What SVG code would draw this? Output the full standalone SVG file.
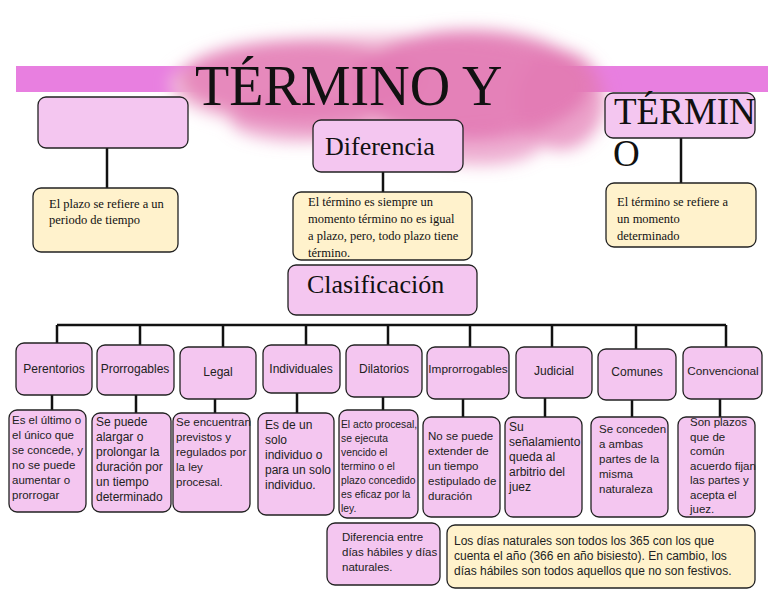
<svg xmlns="http://www.w3.org/2000/svg" width="768" height="594" viewBox="0 0 768 594">
<style>
.p{fill:#f4c6f0;stroke:#222;stroke-width:1.3}
.y{fill:#fff2cc;stroke:#222;stroke-width:1.3}
.s{font-family:"Liberation Sans",Arial,sans-serif;font-size:12px;fill:#222}
.t{font-family:"Liberation Serif","Times New Roman",serif;fill:#111}
.c{stroke:#111;stroke-width:2.5;fill:none}
</style>
<defs><filter id="b" x="-30%" y="-50%" width="160%" height="200%"><feGaussianBlur stdDeviation="8"/></filter></defs>
<rect x="16" y="66" width="752" height="26" fill="#e87fe0"/>
<g filter="url(#b)" fill="#e27ab4">
<ellipse cx="380" cy="85" rx="210" ry="50" fill="#f3c3dc"/>
<ellipse cx="300" cy="80" rx="120" ry="40" opacity="0.8"/>
<ellipse cx="470" cy="85" rx="120" ry="55" opacity="0.9"/>
<ellipse cx="560" cy="100" rx="45" ry="50" opacity="0.7"/>
<ellipse cx="300" cy="120" rx="70" ry="22" opacity="0.6"/>
<ellipse cx="480" cy="145" rx="60" ry="20" opacity="0.6"/>
</g>
<g id="title"><text class="t" x="195" y="105" font-size="56">TÉRMINO Y</text></g>
<g id="connectors" class="c">
<line x1="107" y1="148" x2="107" y2="188"/>
<line x1="383" y1="172" x2="383" y2="192"/>
<line x1="681" y1="138" x2="681" y2="183"/>
<path d="M57 325H726M57 325V343M140 325V345M223 325V347M306 325V345M388 325V345M470 325V347M552 325V347M636 325V349M726 325V347"/>
<path d="M52 395V410M136 395V413M215 399V413M297 393V413M383 397V410M463 399V417M545 398V417M632 400V417M720 399V417"/>
</g>
<g id="n-left"><rect class="p" x="38" y="97" width="150" height="51" rx="8"/></g>
<g id="n-left-d"><rect class="y" x="33" y="188" width="145" height="64" rx="8"/>
<text class="t" font-size="12.5" x="49" y="208">El plazo se refiere a un</text><text class="t" font-size="12.5" x="49" y="224">periodo de tiempo</text></g>
<g id="n-dif"><rect class="p" x="313" y="120" width="150" height="52" rx="8"/><text class="t" x="325" y="155" font-size="26">Diferencia</text></g>
<g id="n-dif-d"><rect class="y" x="293" y="192" width="179" height="68" rx="8"/>
<text class="t" font-size="12.5" x="308" y="206">El término es siempre un</text><text class="t" font-size="12.5" x="308" y="223">momento término no es igual</text><text class="t" font-size="12.5" x="308" y="240">a plazo, pero, todo plazo tiene</text><text class="t" font-size="12.5" x="308" y="257">término.</text></g>
<g id="n-term"><rect class="p" x="605" y="93" width="150" height="45" rx="8"/><text class="t" x="614" y="124" font-size="37">TÉRMIN</text><text class="t" x="613" y="166" font-size="37">O</text></g>
<g id="n-term-d"><rect class="y" x="606" y="183" width="150" height="64" rx="8"/>
<text class="t" font-size="12.5" x="617" y="206">El término se refiere a</text><text class="t" font-size="12.5" x="617" y="223">un momento</text><text class="t" font-size="12.5" x="617" y="240">determinado</text></g>
<g id="n-clas"><rect class="p" x="288" y="265" width="189" height="50" rx="8"/><text class="t" x="307" y="293" font-size="26">Clasificación</text></g>
<g id="n1"><rect class="p" x="16" y="343" width="76" height="52" rx="8"/><text class="s" x="54" y="373" text-anchor="middle">Perentorios</text></g>
<g id="n2"><rect class="p" x="97" y="345" width="77" height="50" rx="8"/><text class="s" x="135" y="373" text-anchor="middle">Prorrogables</text></g>
<g id="n3"><rect class="p" x="180" y="347" width="76" height="52" rx="8"/><text class="s" x="218" y="376" text-anchor="middle">Legal</text></g>
<g id="n4"><rect class="p" x="263" y="345" width="77" height="48" rx="8"/><text class="s" x="301" y="373" text-anchor="middle">Individuales</text></g>
<g id="n5"><rect class="p" x="346" y="345" width="76" height="52" rx="8"/><text class="s" x="384" y="373" text-anchor="middle">Dilatorios</text></g>
<g id="n6"><rect class="p" x="427" y="347" width="82" height="52" rx="8"/><text class="s" x="468" y="373" text-anchor="middle" style="font-size:11.8px">Improrrogables</text></g>
<g id="n7"><rect class="p" x="516" y="347" width="76" height="51" rx="8"/><text class="s" x="554" y="375" text-anchor="middle">Judicial</text></g>
<g id="n8"><rect class="p" x="598" y="349" width="78" height="51" rx="8"/><text class="s" x="637" y="376" text-anchor="middle">Comunes</text></g>
<g id="n9"><rect class="p" x="683" y="347" width="79" height="52" rx="8"/><text class="s" x="723" y="375" text-anchor="middle" style="font-size:11.8px">Convencional</text></g>
<g id="d1"><rect class="p" x="9" y="410" width="77" height="102" rx="8"/><text class="s" x="12" y="424" style="font-size:11.5px"><tspan x="12">Es el último o</tspan><tspan x="12" dy="15">el único que</tspan><tspan x="12" dy="15">se concede, y</tspan><tspan x="12" dy="15">no se puede</tspan><tspan x="12" dy="15">aumentar o</tspan><tspan x="12" dy="15">prorrogar</tspan></text></g>
<g id="d2"><rect class="p" x="92" y="413" width="79" height="99" rx="8"/><text class="s" x="96" y="426"><tspan x="96">Se puede</tspan><tspan x="96" dy="15">alargar o</tspan><tspan x="96" dy="15">prolongar la</tspan><tspan x="96" dy="15">duración por</tspan><tspan x="96" dy="15">un tiempo</tspan><tspan x="96" dy="15">determinado</tspan></text></g>
<g id="d3"><rect class="p" x="173" y="413" width="77" height="99" rx="8"/><text class="s" x="176" y="426" style="font-size:11.5px"><tspan x="176">Se encuentran</tspan><tspan x="176" dy="15">previstos y</tspan><tspan x="176" dy="15">regulados por</tspan><tspan x="176" dy="15">la ley</tspan><tspan x="176" dy="15">procesal.</tspan></text></g>
<g id="d4"><rect class="p" x="258" y="413" width="76" height="102" rx="8"/><text class="s" x="265" y="429"><tspan x="265">Es de un</tspan><tspan x="265" dy="15">solo</tspan><tspan x="265" dy="15">individuo o</tspan><tspan x="265" dy="15">para un solo</tspan><tspan x="265" dy="15">individuo.</tspan></text></g>
<g id="d5"><rect class="p" x="339" y="410" width="79" height="108" rx="8"/><text class="s" x="341" y="428" style="font-size:10.3px"><tspan x="341">El acto procesal,</tspan><tspan x="341" dy="14">se ejecuta</tspan><tspan x="341" dy="14">vencido el</tspan><tspan x="341" dy="14">termino o el</tspan><tspan x="341" dy="14">plazo concedido</tspan><tspan x="341" dy="14">es eficaz por la</tspan><tspan x="341" dy="14">ley.</tspan></text></g>
<g id="d6"><rect class="p" x="423" y="417" width="77" height="100" rx="8"/><text class="s" x="428" y="440" style="font-size:11.5px"><tspan x="428">No se puede</tspan><tspan x="428" dy="15">extender de</tspan><tspan x="428" dy="15">un tiempo</tspan><tspan x="428" dy="15">estipulado de</tspan><tspan x="428" dy="15">duración</tspan></text></g>
<g id="d7"><rect class="p" x="505" y="417" width="77" height="100" rx="8"/><text class="s" x="509" y="431"><tspan x="509">Su</tspan><tspan x="509" dy="15">señalamiento</tspan><tspan x="509" dy="15">queda al</tspan><tspan x="509" dy="15">arbitrio del</tspan><tspan x="509" dy="15">juez</tspan></text></g>
<g id="d8"><rect class="p" x="591" y="417" width="77" height="100" rx="8"/><text class="s" x="599" y="433" style="font-size:11.5px"><tspan x="599">Se conceden</tspan><tspan x="599" dy="15">a ambas</tspan><tspan x="599" dy="15">partes de la</tspan><tspan x="599" dy="15">misma</tspan><tspan x="599" dy="15">naturaleza</tspan></text></g>
<g id="d9"><rect class="p" x="678" y="417" width="77" height="100" rx="8"/><text class="s" x="690" y="426" style="font-size:11.5px"><tspan x="690">Son plazos</tspan><tspan x="690" dy="14.5">que de</tspan><tspan x="690" dy="14.5">común</tspan><tspan x="690" dy="14.5">acuerdo fijan</tspan><tspan x="690" dy="14.5">las partes y</tspan><tspan x="690" dy="14.5">acepta el</tspan><tspan x="690" dy="14.5">juez.</tspan></text></g>
<g id="b1"><rect class="p" x="327" y="523" width="113" height="62" rx="8"/><text class="s" x="342" y="541" style="font-size:11.5px"><tspan x="342">Diferencia entre</tspan><tspan x="342" dy="15">días hábiles y días</tspan><tspan x="342" dy="15">naturales.</tspan></text></g>
<g id="b2"><rect class="y" x="447" y="525" width="308" height="63" rx="8"/><text class="s" x="454" y="545"><tspan x="454">Los días naturales son todos los 365 con los que</tspan><tspan x="454" dy="15">cuenta el año (366 en año bisiesto). En cambio, los</tspan><tspan x="454" dy="15">días hábiles son todos aquellos que no son festivos.</tspan></text></g>
</svg>
